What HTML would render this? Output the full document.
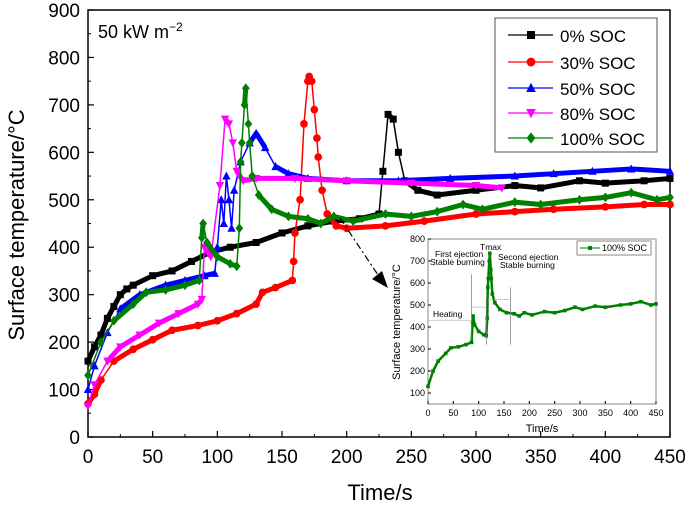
<!DOCTYPE html>
<html><head><meta charset="utf-8"><style>
body{margin:0;background:#fff;}
svg{display:block;font-family:"Liberation Sans",Arial,sans-serif;}
</style></head><body>
<svg id="chart" width="685" height="506" viewBox="0 0 685 506"></svg>
<script>
const seriesNames=["0% SOC","30% SOC","50% SOC","80% SOC","100% SOC"];
const xTicks=[0,50,100,150,200,250,300,350,400,450];
const yTicks=[0,100,200,300,400,500,600,700,800,900];
const insetYTicks=[100,200,300,400,500,600,700,800];
const t0=[0,5,10,15,20,25,30,35,50,65,80,95,110,130,150,170,190,210,225,228,232,236,240,245,255,270,300,330,350,380,400,430,450];
const v0=[160,190,215,250,275,300,312,320,340,350,370,390,400,410,430,445,455,460,470,560,680,670,600,540,520,510,520,530,525,540,535,540,545];
const t1=[0,5,10,20,35,50,65,85,100,115,130,135,145,158,159,160,164,167,170,171,173,175,177,178,181,185,192,200,230,260,300,330,360,400,430,450];
const v1=[70,90,120,160,185,205,225,235,245,260,280,305,315,330,370,430,500,660,750,760,750,690,630,590,520,470,445,440,445,455,470,475,480,485,490,490];
const t2=[0,5,15,25,40,60,75,90,98,100,103,105,107,109,111,113,118,125,130,137,145,155,170,200,240,280,330,360,390,420,450];
const v2=[100,150,220,270,300,320,330,340,345,400,500,450,550,500,440,520,580,620,640,610,570,555,545,540,540,545,550,555,560,565,560];
const t3=[0,5,15,25,40,55,70,85,88,90,95,102,106,109,112,115,120,130,160,200,250,300,320];
const v3=[65,110,160,190,215,240,260,280,290,400,380,530,670,660,620,560,540,545,545,540,535,530,525];
const t4=[0,10,20,35,45,60,75,86,88,89,92,100,110,115,117,118,119,121,122,124,125,127,132,142,155,170,180,190,205,230,250,270,290,305,330,350,380,400,420,440,450];
const v4=[130,200,245,280,305,310,320,330,420,450,410,380,365,360,440,580,620,700,735,660,620,550,510,480,465,460,450,465,455,470,465,475,490,480,495,490,500,505,515,500,505];
const allT=[t0,t1,t2,t3,t4], allV=[v0,v1,v2,v3,v4];
const colors=["#000","#f00","#00f","#f0f","#008000"];
const markers=["square","circle","tri","tridown","diamond"];
const NS="http://www.w3.org/2000/svg";
const svg=document.getElementById('chart');
function mk(tag,attrs,parent){const e=document.createElementNS(NS,tag);for(const k in attrs)e.setAttribute(k,attrs[k]);(parent||svg).appendChild(e);return e;}
const L=88,R=670,T=10,B=437;
const xs=v=>L+v/450*(R-L), ys=v=>B-v/900*(B-T);
function marker(type,x,y,s,c,parent){
  let e;
  if(type=="square")e=mk('rect',{x:x-s,y:y-s,width:2*s,height:2*s,fill:c},parent);
  else if(type=="circle")e=mk('circle',{cx:x,cy:y,r:s*1.1,fill:c},parent);
  else if(type=="tri")e=mk('polygon',{points:`${x},${y-s*1.3} ${x-s*1.2},${y+s} ${x+s*1.2},${y+s}`,fill:c},parent);
  else if(type=="tridown")e=mk('polygon',{points:`${x},${y+s*1.3} ${x-s*1.2},${y-s} ${x+s*1.2},${y-s}`,fill:c},parent);
  else e=mk('polygon',{points:`${x},${y-s*1.4} ${x+s*1.1},${y} ${x},${y+s*1.4} ${x-s*1.1},${y}`,fill:c},parent);
  return e;
}
const ax=mk('g',{});


mk('rect',{x:L,y:T,width:R-L,height:B-T,fill:'none',stroke:'#000','stroke-width':1.5},ax);
xTicks.forEach((v,i)=>{const x=xs(v);mk('line',{x1:x,x2:x,y1:B,y2:B-6,stroke:'#000','stroke-width':1.2},ax);
 if(i<xTicks.length-1){const xm=xs(v+25);mk('line',{x1:xm,x2:xm,y1:B,y2:B-3,stroke:'#000'},ax);}
 const t=mk('text',{x:x,y:B+26,'text-anchor':'middle','font-size':19},ax);t.textContent=v;});
yTicks.forEach((v,i)=>{const y=ys(v);mk('line',{x1:L,x2:L+6,y1:y,y2:y,stroke:'#000','stroke-width':1.2},ax);
 if(i<yTicks.length-1){const ym=ys(v+50);mk('line',{x1:L,x2:L+3,y1:ym,y2:ym,stroke:'#000'},ax);}
 const t=mk('text',{x:L-8,y:y+7,'text-anchor':'end','font-size':19},ax);t.textContent=v;});
const xt=mk('text',{x:380,y:500,'text-anchor':'middle','font-size':22},ax);xt.textContent="Time/s";

const yt=mk('text',{x:24,y:225,'text-anchor':'middle','font-size':22,transform:'rotate(-90 24 225)'},ax);yt.textContent="Surface temperature/°C";

const ann=mk('text',{x:98,y:38,'font-size':18},ax);ann.innerHTML='50 kW m<tspan dy="-7" font-size="12">−2</tspan>';

for(let s=0;s<5;s++){
  const g=mk('g',{});
  
  
  const pts=allT[s].map((t,i)=>xs(t)+','+ys(allV[s][i])).join(' ');
  mk('polyline',{points:pts,fill:'none',stroke:colors[s],'stroke-width':1.5},g);
  // thick trail only across slowly varying segments
  let seg=[];
  const flush=()=>{if(seg.length>1)mk('polyline',{points:seg.join(' '),fill:'none',stroke:colors[s],'stroke-width':5,'stroke-linejoin':'round'},g);seg=[];};
  allT[s].forEach((t,i)=>{
    if(i>0&&Math.abs(allV[s][i]-allV[s][i-1])>35)flush();
    seg.push(xs(t)+','+ys(allV[s][i]));
  });
  flush();
  allT[s].forEach((t,i)=>marker(markers[s],xs(t),ys(allV[s][i]),3.5,colors[s],g));
}
const lg=mk('g',{});


mk('rect',{x:495,y:18,width:162,height:134,fill:'#fff',stroke:'#555'},lg);
const ly=[35,62,88,113,138];
seriesNames.forEach((n,i)=>{
  const e=mk('g',{},lg);
  
  
  mk('line',{x1:508,x2:553,y1:ly[i],y2:ly[i],stroke:colors[i],'stroke-width':1.2},e);
  marker(markers[i],531,ly[i],4,colors[i],e);
  const t=mk('text',{x:560,y:ly[i]+7,'font-size':17},e);t.textContent=n;
});
const arr=mk('g',{});


mk('line',{x1:340,y1:218,x2:380,y2:278,stroke:'#000','stroke-width':1.2,'stroke-dasharray':'7 3 2 3'},arr);
mk('polygon',{points:'388,288 372,279 382,271',fill:'#000'},arr);
const IL=428,IR=656,IT=239,IB=404;
const ixs=v=>IL+v/450*(IR-IL), iys=v=>IB-(v-50)/750*(IB-IT);
const ins=mk('g',{});


mk('rect',{x:IL,y:IT,width:IR-IL,height:IB-IT,fill:'#fff',stroke:'#888','stroke-width':1},ins);
xTicks.forEach(v=>{const x=ixs(v);mk('line',{x1:x,x2:x,y1:IB,y2:IB-3,stroke:'#000'},ins);
 const t=mk('text',{x:x,y:IB+12,'text-anchor':'middle','font-size':9},ins);t.textContent=v;});
insetYTicks.forEach(v=>{const y=iys(v);mk('line',{x1:IL,x2:IL+3,y1:y,y2:y,stroke:'#000'},ins);
 const t=mk('text',{x:IL-3,y:y+3,'text-anchor':'end','font-size':9},ins);t.textContent=v;});
const ixt=mk('text',{x:542,y:432,'text-anchor':'middle','font-size':11},ins);ixt.textContent="Time/s";
const iyt=mk('text',{x:400,y:322,'text-anchor':'middle','font-size':11,transform:'rotate(-90 400 322)'},ins);iyt.textContent="Surface temperature/°C";
mk('polyline',{points:t4.map((t,i)=>ixs(t)+','+iys(v4[i])).join(' '),fill:'none',stroke:'#008000','stroke-width':2.5},ins);
t4.forEach((t,i)=>marker('square',ixs(t),iys(v4[i]),1.8,'#008000',ins));
mk('rect',{x:577,y:241,width:74,height:14,fill:'#fff',stroke:'#888'},ins);
mk('line',{x1:580,x2:600,y1:248,y2:248,stroke:'#008000'},ins);
marker('square',590,248,2,'#008000',ins);
const il=mk('text',{x:602,y:251,'font-size':9},ins);il.textContent="100% SOC";
const labs=[["Tmax",480,250],["First ejection",435,257],["Stable burning",430,265],["Second ejection",498,260],["Stable burning",500,268],["Heating",433,317]];
labs.forEach(a=>{const t=mk('text',{x:a[1],y:a[2],'font-size':8.5},ins);t.textContent=a[0];});
[[ixs(86),iys(340),ixs(86),iys(640)],[ixs(115),iys(320),ixs(115),iys(530)],[ixs(163),iys(320),ixs(163),iys(580)]].forEach(l=>mk('line',{x1:l[0],y1:l[1],x2:l[2],y2:l[3],stroke:'#777','stroke-width':0.7},ins));
mk('line',{x1:ixs(3),x2:ixs(84),y1:iys(430),y2:iys(430),stroke:'#999','stroke-dasharray':'1 1'},ins);
mk('line',{x1:ixs(88),x2:ixs(113),y1:iys(490),y2:iys(490),stroke:'#999','stroke-dasharray':'1 1'},ins);
mk('line',{x1:ixs(118),x2:ixs(161),y1:iys(525),y2:iys(525),stroke:'#999','stroke-dasharray':'1 1'},ins);
</script>
</body></html>
